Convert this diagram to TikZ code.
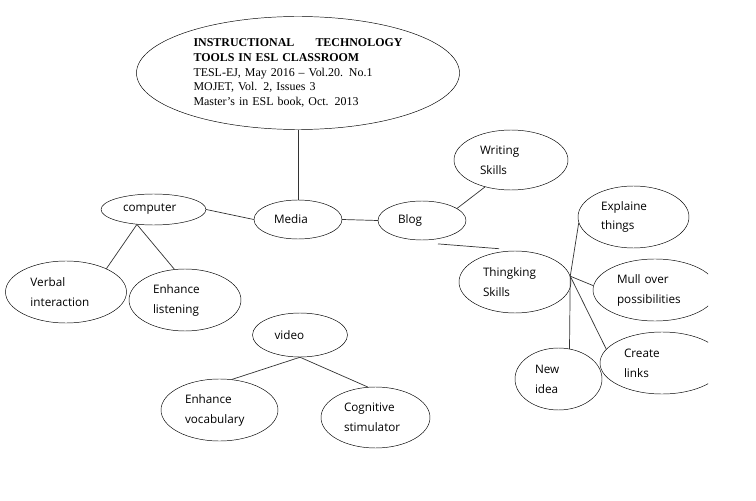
\documentclass[tikz,border=0pt]{standalone}
\usepackage{fontspec}
\setmainfont{Liberation Serif}
\newfontfamily\labelfont{Open Sans}
\usetikzlibrary{shapes.geometric}
\tikzset{
  bel/.style={draw,ellipse,inner sep=0pt,align=left,font=\labelfont\fontsize{10}{17}\selectfont},
  con/.style={draw=black!80,line width=0.6pt}
}
\begin{document}
\begin{tikzpicture}
\useasboundingbox (0,0) rectangle (22.68,15);
\begin{scope}
\clip (0,0) rectangle (21.24,15);
\node[draw,ellipse,inner sep=0pt,text width=6.27cm,minimum width=9.69cm,minimum height=3.39cm,font=\fontsize{10.2}{12.6}\selectfont] (TOOLS) at (8.94,12.81) {\textbf{INSTRUCTIONAL\hfill TECHNOLOGY}\\\textbf{TOOLS IN ESL CLASSROOM}\\TESL-EJ, May 2016 -- Vol.20. No.1\\MOJET, Vol. 2, Issues 3\\Master's in ESL book, Oct. 2013};
\node[bel,text width=1.83cm,minimum width=3.15cm,minimum height=0.93cm] (COMP) at (4.605,8.715) {computer};
\node[bel,text width=1.44cm,minimum width=2.64cm,minimum height=1.17cm] (MED) at (8.94,8.415) {Media};
\node[bel,text width=1.44cm,minimum width=2.64cm,minimum height=1.17cm] (BLOG) at (12.66,8.385) {Blog};
\node[bel,text width=1.86cm,minimum width=3.42cm,minimum height=1.8cm] (WRI) at (15.33,10.2) {Writing\\Skills};
\node[bel,text width=1.92cm,minimum width=3.36cm,minimum height=1.86cm] (THI) at (15.45,6.54) {Thingking\\Skills};
\node[bel,text width=1.95cm,minimum width=3.33cm,minimum height=1.86cm] (EXP) at (19.005,8.49) {Explaine\\things};
\node[bel,text width=2.28cm,minimum width=3.72cm,minimum height=1.86cm] (MUL) at (19.65,6.3) {Mull over\\possibilities};
\node[bel,text width=2.28cm,minimum width=3.72cm,minimum height=1.86cm] (CRE) at (19.86,4.11) {Create\\links};
\node[bel,text width=1.41cm,minimum width=2.61cm,minimum height=1.86cm] (NEW) at (16.755,3.63) {New\\idea};
\node[bel,text width=2.13cm,minimum width=3.63cm,minimum height=1.86cm] (VER) at (1.98,6.24) {Verbal\\interaction};
\node[bel,text width=1.92cm,minimum width=3.36cm,minimum height=1.86cm] (LIS) at (5.55,6) {Enhance\\listening};
\node[bel,text width=1.53cm,minimum width=2.85cm,minimum height=1.32cm] (VID) at (9,4.95) {video};
\node[bel,text width=2.07cm,minimum width=3.51cm,minimum height=1.86cm] (VOC) at (6.585,2.7) {Enhance\\vocabulary};
\node[bel,text width=1.89cm,minimum width=3.27cm,minimum height=1.83cm] (COG) at (11.265,2.475) {Cognitive\\stimulator};
\end{scope}
\draw[con] (TOOLS.south) -- (MED.north);
\draw[con] (COMP.east) -- (MED.west);
\draw[con] (MED.east) -- (BLOG.west);
\draw[con] (BLOG.19) -- (WRI.226);
\draw[con] ([yshift=-0.15cm]BLOG.-49) -- ([yshift=0.1cm]THI.118);
\draw[con] (COMP.-138) -- (VER.30);
\draw[con] (COMP.-138) -- (LIS.109);
\draw[con] (VID.south) -- (VOC.68);
\draw[con] (VID.south) -- (COG.104);
\draw[con] (THI.6) -- (EXP.186);
\draw[con] (THI.6) -- (MUL.176);
\draw[con] (THI.6) -- (CRE.166);
\draw[con] (THI.6) -- (NEW.70);
\end{tikzpicture}
\end{document}
